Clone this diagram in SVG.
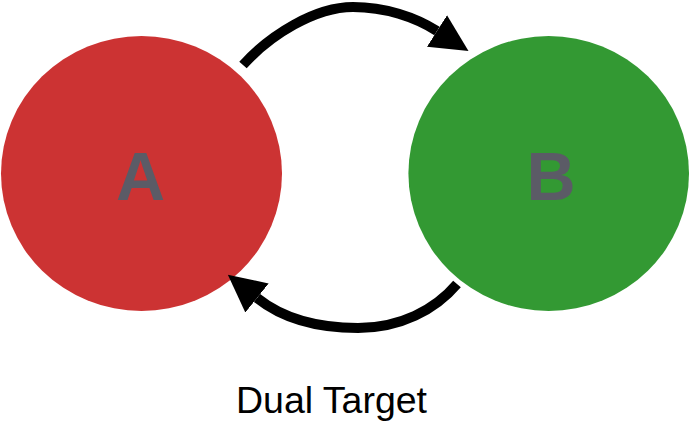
<svg xmlns="http://www.w3.org/2000/svg" width="690" height="431" viewBox="0 0 690 431">
<style>
.lbl{font-family:"Liberation Sans",Arial,sans-serif;font-weight:bold;font-size:68px;fill:#5B5B66;text-anchor:middle}
.conn{fill:none;stroke:#000;stroke-width:10}
.cap{font-family:"Liberation Sans",Arial,sans-serif;font-size:37.5px;fill:#000;text-anchor:middle}
</style>
<defs>
<marker id="ah" markerUnits="userSpaceOnUse" markerWidth="40" markerHeight="40" refX="0" refY="14" orient="auto" viewBox="0 0 30 28">
<path d="M0,0 L28,14 L0,28 Z" fill="#000"/>
</marker>
</defs>
<rect width="690" height="431" fill="#fff"/>
<g id="nodeA">
<ellipse cx="141.5" cy="173.5" rx="140.5" ry="137.5" fill="#CC3333"/>
<text class="lbl" x="140.5" y="200">A</text>
</g>
<g id="nodeB">
<ellipse cx="548.7" cy="173.5" rx="140.3" ry="137.5" fill="#339933"/>
<text class="lbl" x="551" y="200">B</text>
</g>
<g id="connectors">
<path class="conn" d="M243,65 C270,35 315,7 353,7 C385,7 415,17 437,31" marker-end="url(#ah)"/>
<path class="conn" d="M457,284 C435,310 400,328 358,328 C315,328 282,318 257,298" marker-end="url(#ah)"/>
</g>
<text class="cap" x="331.5" y="413">Dual Target</text>
</svg>
